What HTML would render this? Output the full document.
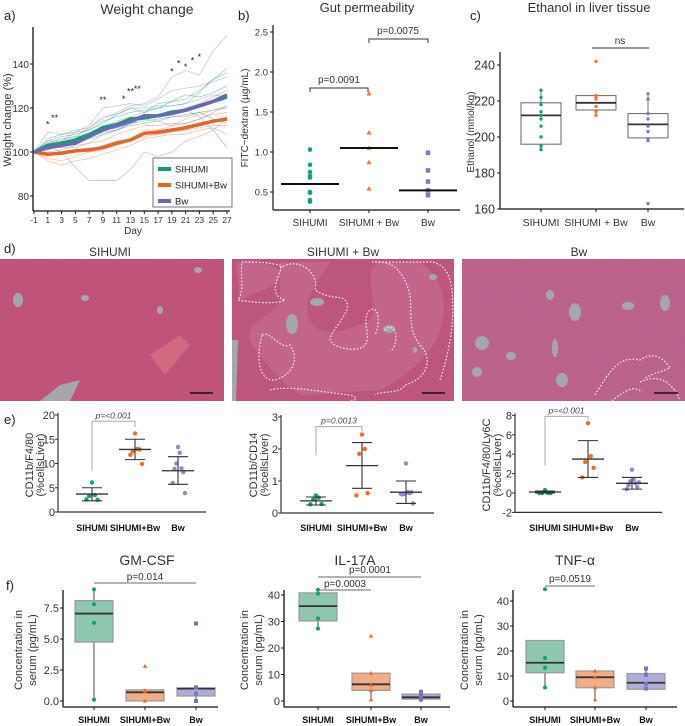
<!DOCTYPE html>
<html><head><meta charset="utf-8"><style>
html,body{margin:0;padding:0;background:#fff;}
svg{display:block;font-family:"Liberation Sans",sans-serif;}
</style></head><body>
<svg id="fig" width="685" height="726" viewBox="0 0 685 726" xmlns="http://www.w3.org/2000/svg">
<defs>
<filter id="noise" x="0" y="0" width="100%" height="100%">
<feTurbulence type="fractalNoise" baseFrequency="0.9" numOctaves="2" seed="3"/>
<feColorMatrix type="matrix" values="0 0 0 0 0.35  0 0 0 0 0.1  0 0 0 0 0.35  0 0 0 1.6 -0.6"/>
</filter>
</defs>
<g id="histo">
<rect x="0" y="259" width="224" height="142" fill="#c25378"/>
<rect x="232" y="259" width="222" height="142" fill="#c0557c"/>
<rect x="462" y="259" width="223" height="142" fill="#bd6489"/>
<path d="M236 262 C255 258 270 265 280 270 C285 285 260 290 240 300 Z M280 262 L330 262 C320 280 300 300 310 320 C320 340 350 330 370 320 C380 300 360 270 380 262 L420 262 C440 275 450 300 440 330 C430 360 400 380 380 390 L300 395 C280 380 260 360 250 340 C245 320 270 320 280 300 Z" fill="#cc7896" opacity="0.5"/>
<rect x="0" y="259" width="685" height="142" filter="url(#noise)" opacity="0.35"/>
<rect x="224" y="259" width="8" height="142" fill="#fff"/>
<rect x="454" y="259" width="8" height="142" fill="#fff"/>
<g fill="#a6a7ad">
<ellipse cx="18" cy="300" rx="5" ry="7"/><ellipse cx="85" cy="298" rx="4" ry="3"/><path d="M150 355 L180 335 L190 345 L165 375 Z" fill="#d06a80"/><path d="M40 401 L60 385 L80 380 L70 401 Z"/><ellipse cx="160" cy="310" rx="3" ry="4"/><ellipse cx="198" cy="270" rx="4" ry="3"/>
<ellipse cx="292" cy="324" rx="6" ry="10"/><ellipse cx="317" cy="302" rx="7" ry="4"/><ellipse cx="389" cy="329" rx="6" ry="4"/><path d="M232 340 L238 340 L236 401 L232 401 Z"/><ellipse cx="433" cy="277" rx="4" ry="3"/><ellipse cx="415" cy="350" rx="2" ry="3"/>
<ellipse cx="550" cy="295" rx="4" ry="5"/><ellipse cx="575" cy="312" rx="6" ry="9"/><ellipse cx="482" cy="343" rx="7" ry="7"/><ellipse cx="511" cy="356" rx="5" ry="4"/><ellipse cx="477" cy="372" rx="5" ry="5"/><ellipse cx="562" cy="380" rx="6" ry="7"/><ellipse cx="628" cy="306" rx="6" ry="4"/><ellipse cx="665" cy="303" rx="5" ry="8"/><ellipse cx="555" cy="348" rx="3" ry="9"/>
</g>
<g fill="none" stroke="#fff" stroke-width="1.1" stroke-dasharray="1.6 1.8">
<path d="M242 262 C255 262 270 262 282 266 C275 285 270 295 285 300 C275 305 250 302 238 300 C245 290 240 275 242 262 Z"/>
<path d="M280 268 C300 255 320 275 315 290 C330 300 340 295 345 300 C355 310 330 330 330 340 C335 350 360 352 365 345 C372 335 360 320 370 310 C380 305 380 325 375 335"/>
<path d="M375 262 C395 260 405 275 410 295 C412 315 408 330 420 345 C435 360 425 380 405 385 C400 395 380 390 375 395"/>
<path d="M372 262 L430 262 C440 262 450 270 452 290 C455 320 450 350 440 380"/>
<path d="M262 335 C270 330 280 350 290 345 C300 360 292 375 275 380 C260 382 255 360 262 335 Z"/>
<path d="M270 390 C290 385 320 392 350 395 C360 398 355 401 350 401"/>
<path d="M385 330 C395 320 400 340 392 350"/>
<path d="M595 395 C610 370 620 355 640 360 C655 350 665 360 670 368 C660 372 650 375 645 378"/>
<path d="M640 382 C660 372 675 385 680 401"/>
<path d="M612 401 C625 390 635 385 642 392"/>
</g>
<g stroke="#111" stroke-width="1.5">
<line x1="190" y1="393" x2="213" y2="393"/><line x1="422" y1="393" x2="445" y2="393"/><line x1="654" y1="393" x2="678" y2="393"/>
</g>
</g>
<g id="root"></g>
</svg>
<script>
const NS='http://www.w3.org/2000/svg';
const root=document.getElementById('root');
function mk(tag,a,name,parent){const el=document.createElementNS(NS,tag);for(const k in a)el.setAttribute(k,a[k]);


(parent||root).appendChild(el);return el;}
function T(x,y,s,name,o){o=o||{};const el=mk('text',{x:x,y:y,'font-size':o.fs||10,fill:o.fill||'#333','text-anchor':o.anchor||'middle','font-weight':o.fw||'normal','font-style':o.fst||'normal'},name);
if(o.rot)el.setAttribute('transform','rotate(-90 '+x+' '+y+')');el.textContent=s;return el;}
function L(x1,y1,x2,y2,name,c,w){return mk('line',{x1:x1,y1:y1,x2:x2,y2:y2,stroke:c||'#222','stroke-width':w||1},name);}
function P(x,y,shape,c,r,name){r=r||2.3;
if(shape==='tri')return mk('path',{d:'M'+x+' '+(y-r*1.2)+'L'+(x+r*1.1)+' '+(y+r*0.8)+'L'+(x-r*1.1)+' '+(y+r*0.8)+'Z',fill:c},name);
if(shape==='sq')return mk('rect',{x:x-r,y:y-r,width:2*r,height:2*r,fill:c},name);
return mk('circle',{cx:x,cy:y,r:r,fill:c},name);}
function jit(i,n,w){return n<=1?0:(i%2?1:-1)*Math.ceil(i/2)*w/Math.max(1,n);}
const G='#1b9e77',O='#ee6a2a',Pu='#7f7dc2';

// ===== Panel a data =====
const aDays=[-1,1,3,5,7,9,11,13,15,17,19,21,23,25,27];
const aTickDays=[-1,1,3,5,7,9,11,13,15,17,19,21,23,25,27];
const aTickVals=[80,100,120,140];
const sihumiMean=[100,103,104,105.5,108,111,112.5,115,115.5,116.5,118,119,121,123,125];
const sihumiBwMean=[100,99,99.5,100.5,101,102,104,105.5,108.5,109,110,111,112.5,114,115];
const bwMean=[100,102,103,104,107,110,112,114,116.5,116.5,117.5,119,121,123,126];
const sihumiInd=[[100,106,108,109,110,114,116,118,119,120,123,124,128,133,136],[100,104,106,107,108,112,114,116,118,120,121,122,127,133,138],[100,101,103,104,107,109,110,112,113,114,116,117,118,119,120],[100,102,104,106,107,110,111,113,116,117,119,119,116,110,102],[100,105,107,108,110,113,117,120,118,122,123,126,125,127,130],[100,103,104,104,106,108,110,113,114,115,116,116,118,115,113]];
const sihumiBwInd=[[100,97,96,98,100,101,103,105,108,110,112,115,117,119,121],[100,96,94,96,97,99,101,103,106,107,108,108,110,111,108],[100,100,101,103,104,105,108,110,112,112,113,113,115,117,118],[100,99,99,100,101,103,105,106,110,110,110,112,113,114,116],[100,98,100,101,100,102,104,105,107,108,109,110,111,112,112]];
const bwInd=[[100,109,108,110,111,115,118,121,122,125,134,137,135,146,153],[100,103,100,93,87,87,87,92,100,98,100,105,107,110,115],[100,104,105,109,112,120,121,122,121,124,128,129,130,132,134],[100,101,103,104,107,110,111,113,116,116,117,120,122,125,128],[100,102,102,102,104,108,110,113,115,114,112,113,115,118,121],[100,105,105,107,111,116,117,120,120,121,121,122,124,126,125]];
const starDays=[1,2,9,12,13,14,19,20,21,22,23];
const starVals=[113,116,124,124.6,128,129,137,140.6,139,142,143.6];
const starLabels=['*','**','**','*','**','**','*','*','*','*','*'];
(function(){
const sx=d=>34+(d+1)*193/28, sy=v=>152-(v-100)*2.2;
T(147,14,'Weight change','title-a',{fs:14});T(4,20,'a)','label-a',{fs:13,anchor:'start',fill:'#222'});
L(33,27,33,211,'y-axis-a','#111',1.3);L(33,211,230,211,'x-axis-a','#111',1.3);
aTickVals.forEach(v=>{L(30,sy(v),33,sy(v),'y-tick-a','#111');T(29,sy(v)+4,String(v),'y-tick-label-a',{fs:10,anchor:'end'});});
aTickDays.forEach(d=>{L(sx(d),211,sx(d),214,'x-tick-a','#111');T(sx(d),223,String(d),'x-tick-label-a',{fs:8.5});});
T(133,234,'Day','x-axis-title-a',{fs:10});T(11,120,'Weight change (%)','y-axis-title-a',{fs:11,rot:1});
const line=(vals,c,w,op,name)=>mk('polyline',{points:vals.map((v,i)=>sx(aDays[i])+','+sy(v)).join(' '),fill:'none',stroke:c,'stroke-width':w,opacity:op},name);
sihumiInd.forEach(s=>line(s,G,0.7,0.5,'line-sihumi-individual'));
sihumiBwInd.forEach(s=>line(s,O,0.7,0.45,'line-sihumi-bw-individual'));
bwInd.forEach(s=>line(s,Pu,0.7,0.5,'line-bw-individual'));
line(sihumiBwMean,'#e0662c',3.5,1,'line-sihumi-bw-mean');
line(sihumiMean,'#149a6e',3.5,1,'line-sihumi-mean');
line(bwMean,'#6b69b4',3.5,1,'line-bw-mean');
starDays.forEach((d,i)=>T(sx(d),sy(starVals[i])+4,starLabels[i],'significance-star',{fs:9,fill:'#222'}));
mk('rect',{x:153,y:158,width:79,height:49,fill:'#fff',stroke:'#555','stroke-width':0.8},'legend-box');
[['SIHUMI','#149a6e'],['SIHUMI+Bw','#e0662c'],['Bw','#6b69b4']].forEach((e,i)=>{const y=169+i*16;
L(158,y,171,y,'legend-swatch',e[1],4);T(175,y+3.5,e[0],'legend-entry',{fs:9.5,anchor:'start',fill:'#222'});});
})();

// ===== Panel b data =====
const bCats=['SIHUMI','SIHUMI + Bw','Bw'];
const bSihumi=[1.03,0.84,0.75,0.70,0.68,0.50,0.49,0.40,0.38];
const bSihumiBw=[1.73,1.24,1.05,0.87,0.54];
const bBw=[0.99,0.77,0.63,0.52,0.46];
const bMedians=[0.6,1.05,0.52];
const bTicks=[0.5,1.0,1.5,2.0,2.5];
(function(){
const cx=[310,369,428], sy=v=>152-(v-1)*80;
T(367,12,'Gut permeability','title-b',{fs:13});T(238,20,'b)','label-b',{fs:13,anchor:'start',fill:'#222'});
L(273,25,273,210,'y-axis-b','#111',1.2);L(273,210,460,210,'x-axis-b','#111',1.2);
bTicks.forEach(v=>{L(270,sy(v),273,sy(v),'y-tick-b','#111');T(268,sy(v)+3.5,v.toFixed(1),'y-tick-label-b',{fs:9.5,anchor:'end'});});
bCats.forEach((c,i)=>{L(cx[i],210,cx[i],213,'x-tick-b','#111');T(cx[i],226,c,'x-tick-label-b',{fs:10});});
T(248,118,'FITC−dextran (µg/mL)','y-axis-title-b',{fs:10,rot:1});
[[bSihumi,'c',G],[bSihumiBw,'tri','#f07a3a'],[bBw,'sq',Pu]].forEach((g,i)=>{g[0].forEach(v=>P(cx[i],sy(v),g[1],g[2],2.3,'point-b'));
L(cx[i]-29,sy(bMedians[i]),cx[i]+29,sy(bMedians[i]),'median-b','#111',2);});
mk('path',{d:'M310 92V88H368V92',fill:'none',stroke:'#333','stroke-width':1},'bracket-b1');
T(339,83,'p=0.0091','p-value-b1',{fs:10});
mk('path',{d:'M369 43V39H428V43',fill:'none',stroke:'#333','stroke-width':1},'bracket-b2');
T(398,34,'p=0.0075','p-value-b2',{fs:10});
})();

// ===== Panel c data =====
const cCats=['SIHUMI','SIHUMI + Bw','Bw'];
const cSihumi=[226,222,218,214,212,210,206,200,195,193];
const cSihumiBw=[242,223,222,221,217,214,212];
const cBw=[224,221,213,210,206,203,199,198,163];
const cQ1=[196,215,199.5],cMed=[212,219,207],cQ3=[219,223,213],cLo=[193,212,198],cHi=[226,223,224];
const cTicks=[160,180,200,220,240];
(function(){
const cx=[541,596,648], sy=v=>137-(v-200)*1.8;
T(589,12,'Ethanol in liver tissue','title-c',{fs:13});T(470,20,'c)','label-c',{fs:13,anchor:'start',fill:'#222'});
L(500,52,500,209,'y-axis-c','#111',1.2);L(500,209,684,209,'x-axis-c','#111',1.2);
cTicks.forEach(v=>{L(497,sy(v),500,sy(v),'y-tick-c','#111');T(495,sy(v)+4.5,String(v),'y-tick-label-c',{fs:12.5,anchor:'end'});});
cCats.forEach((c,i)=>{L(cx[i],209,cx[i],212,'x-tick-c','#111');T(cx[i],226,c,'x-tick-label-c',{fs:10.5});});
T(474,132,'Ethanol (mmol/kg)','y-axis-title-c',{fs:10,rot:1});
const data=[cSihumi,cSihumiBw,cBw],cols=[G,'#f07a3a',Pu];
data.forEach((d,i)=>{L(cx[i],sy(cHi[i]),cx[i],sy(cLo[i]),'whisker-c','#777');
mk('rect',{x:cx[i]-20,y:sy(cQ3[i]),width:40,height:sy(cQ1[i])-sy(cQ3[i]),fill:'#fff',stroke:'#666','stroke-width':1},'box-c');
L(cx[i]-20,sy(cMed[i]),cx[i]+20,sy(cMed[i]),'median-c','#333',1.8);
d.forEach(v=>P(cx[i],sy(v),'c',cols[i],1.7,'point-c'));});
L(592,48,649,48,'ns-line-c','#333');T(620,44,'ns','ns-label-c',{fs:10});
})();

T(4,253,'d)','label-d',{fs:13,anchor:'start',fill:'#222'});
T(110,256,'SIHUMI','histology-title-sihumi',{fs:12});
T(343,256,'SIHUMI + Bw','histology-title-sihumi-bw',{fs:12});
T(579,256,'Bw','histology-title-bw',{fs:12});

// ===== Panel e data =====
const eCats=['SIHUMI','SIHUMI+Bw','Bw'];
const e1Pts=[[6.1,3.5,3.3,2.5,2.6],[16.2,13.0,12.5,12.9,11.8,9.9],[13.4,12.2,10.0,9.0,8.9,8.2,6.0,3.9]];
const e1Mean=[3.7,12.9,8.5],e1Lo=[2.3,10.8,5.7],e1Hi=[5.0,15.0,11.4];
const e1Ticks=[0,5,10,15,20];
const e2Pts=[[0.55,0.48,0.42,0.28,0.27],[2.45,2.0,1.85,0.62,0.55],[1.55,0.65,0.6,0.62,0.58,0.65,0.6,0.3]];
const e2Mean=[0.38,1.48,0.65],e2Lo=[0.25,0.77,0.3],e2Hi=[0.5,2.2,1.0];
const e2Ticks=[0,1,2,3];
const e3Pts=[[0.3,0.0,0.0,0.0,0.0],[7.2,3.8,3.2,2.6,1.6],[2.4,1.4,1.2,1.0,0.8,0.6,0.4,1.1]];
const e3Mean=[0.1,3.5,1.0],e3Lo=[0.0,1.6,0.4],e3Hi=[0.2,5.4,1.6];
const e3Ticks=[-2,0,2,4,6,8];
const eP=['p=<0.001','p=0.0013','p=<0.001'];
const eBr=[[8.5,18.7,17.5],[1.8,2.7,2.55],[2.8,7.9,7.5]];
T(4,424,'e)','label-e',{fs:13,anchor:'start',fill:'#222'});
function ePanel(ax,cx,right,sy,ticks,pts,mean,lo,hi,br,ptxt,l1,l2,yl){
L(ax,sy(ticks[ticks.length-1])-2,ax,sy(ticks[0]),'y-axis-e','#333',1.2);L(ax,sy(ticks[0]),right,sy(ticks[0]),'x-axis-e','#333',1.2);
ticks.forEach(v=>{L(ax-3,sy(v),ax,sy(v),'y-tick-e','#333');T(ax-3,sy(v)+4,String(v),'y-tick-label-e',{fs:11,anchor:'end'});});
eCats.forEach((c,i)=>T(cx[i],531,c,'x-tick-label-e',{fs:9,fw:'bold',fill:'#111'}));
T(yl,465,l1,'y-axis-title-e',{fs:11,rot:1});T(yl+11,465,l2,'y-axis-title-e',{fs:11,rot:1});
const cols=['#16a06a','#f26b2a','#8d8ccc'];
pts.forEach((d,i)=>{d.forEach((v,j)=>P(cx[i]+jit(j,d.length,14),sy(v),'c',cols[i],2.2,'point-e'));
L(cx[i],sy(hi[i]),cx[i],sy(lo[i]),'error-bar-e','#333',1.1);
L(cx[i]-10,sy(hi[i]),cx[i]+10,sy(hi[i]),'error-cap-e','#333',1.1);L(cx[i]-10,sy(lo[i]),cx[i]+10,sy(lo[i]),'error-cap-e','#333',1.1);
L(cx[i]-16,sy(mean[i]),cx[i]+16,sy(mean[i]),'mean-line-e','#333',1.3);});
mk('path',{d:'M'+cx[0]+' '+sy(br[0])+'V'+sy(br[1])+'H'+cx[1]+'V'+sy(br[2]),fill:'none',stroke:'#aaa','stroke-width':1},'bracket-e');
T((cx[0]+cx[1])/2,sy(br[1])-3,ptxt,'p-value-e',{fs:8.5,fst:'italic',fill:'#444'});}
ePanel(58,[92,135,178],206,v=>512-v*4.85,e1Ticks,e1Pts,e1Mean,e1Lo,e1Hi,eBr[0],eP[0],'CD11b/F4/80','(%cellsLiver)',33);
ePanel(281,[316,362,406],434,v=>513-v*32,e2Ticks,e2Pts,e2Mean,e2Lo,e2Hi,eBr[1],eP[1],'CD11b/CD14','(%cellsLiver)',257);
ePanel(515,[545,588,632],662,v=>493-v*9.7,e3Ticks,e3Pts,e3Mean,e3Lo,e3Hi,eBr[2],eP[2],'CD11b/F4/80/Ly6C','(%cellsLiver)',490);

// ===== Panel f data =====
const fCats=['SIHUMI','SIHUMI+Bw','Bw'];
const gmPts=[[9.0,7.8,6.3,0.1],[2.8,0.85,0.75,0.0],[6.25,1.1,0.6,0.0]];
const gmQ1=[4.75,0.0,0.4],gmMed=[7.05,0.7,1.0],gmQ3=[8.1,0.9,1.05],gmLo=[0.1,0.0,0.0],gmHi=[9.0,0.9,1.1];
const gmTicks=[0,2.5,5,7.5];const gmTickLabels=['0.0','2.5','5.0','7.5'];
const ilPts=[[42,40.5,31.2,27.3],[24.5,10.5,6,4,0.5],[3.5,2,1.5,1,0.5]];
const ilQ1=[30.2,4,0.7],ilMed=[35.8,6.3,1.4],ilQ3=[40.8,10.5,2.6],ilLo=[27.3,0.5,0.5],ilHi=[42,10.5,3.5];
const ilTicks=[0,10,20,30,40];
const tnPts=[[44.7,17.2,13.3,5.4],[12,9.5,5.4,0.5],[13,10.5,7,5]];
const tnQ1=[11.3,5.3,4.7],tnMed=[15.3,9.5,7.3],tnQ3=[24.2,12,11],tnLo=[5.4,0.5,4.7],tnHi=[24.2,12,13];
const tnTicks=[0,10,20,30,40];
T(6,590,'f)','label-f',{fs:13,anchor:'start',fill:'#222'});
function fPanel(ax,cx,right,sy,ticks,tl,pts,q1,med,q3,lo,hi,title,tx,yl){
T(tx,565,title,'title-f',{fs:14});
L(ax,590,ax,707,'y-axis-f','#111',1.3);L(ax,707,right,707,'x-axis-f','#111',1.3);
ticks.forEach((v,i)=>{L(ax-3,sy(v),ax,sy(v),'y-tick-f','#111');T(ax-4,sy(v)+4,tl[i],'y-tick-label-f',{fs:11,anchor:'end'});});
fCats.forEach((c,i)=>{L(cx[i],707,cx[i],710,'x-tick-f','#111');T(cx[i],723,c,'x-tick-label-f',{fs:9,fw:'bold',fill:'#111'});});
T(yl,650,'Concentration in','y-axis-title-f',{fs:11,rot:1});T(yl+14,650,'serum (pg/mL)','y-axis-title-f',{fs:11,rot:1});
const fills=['#8fc6ae','#f0ad87','#aeacd8'],pc=['#13a06c','#ee6a2a','#7674bd'],sh=['c','tri','sq'];
pts.forEach((d,i)=>{L(cx[i],sy(hi[i]),cx[i],sy(lo[i]),'whisker-f','#555',1.1);
mk('rect',{x:cx[i]-19,y:sy(q3[i]),width:38,height:Math.max(1,sy(q1[i])-sy(q3[i])),fill:fills[i],stroke:'#999','stroke-width':1.2},'box-f');
L(cx[i]-19,sy(med[i]),cx[i]+19,sy(med[i]),'median-f','#333',1.8);
d.forEach(v=>P(cx[i],sy(v),sh[i],pc[i],2,'point-f'));});}
fPanel(63,[94,145,196],218,v=>701-v*12.4,gmTicks,gmTickLabels,gmPts,gmQ1,gmMed,gmQ3,gmLo,gmHi,'GM-CSF',147,22);
fPanel(284,[318,371,421],450,v=>701-v*2.65,ilTicks,ilTicks.map(String),ilPts,ilQ1,ilMed,ilQ3,ilLo,ilHi,'IL-17A',355,248);
fPanel(513,[545,595,646],677,v=>701-v*2.5,tnTicks,tnTicks.map(String),tnPts,tnQ1,tnMed,tnQ3,tnLo,tnHi,'TNF-α',575,468);
L(94,583,196,583,'p-line-gm','#888',1.2);T(145,580,'p=0.014','p-value-gm',{fs:10});
L(318,577,421,577,'p-line-il1','#888',1.2);T(370,573,'p=0.0001','p-value-il1',{fs:10});
L(318,590,371,590,'p-line-il2','#888',1.2);T(345,587,'p=0.0003','p-value-il2',{fs:10});
L(545,586,595,586,'p-line-tnf','#888',1.2);T(570,582,'p=0.0519','p-value-tnf',{fs:10});
</script>
</body></html>
